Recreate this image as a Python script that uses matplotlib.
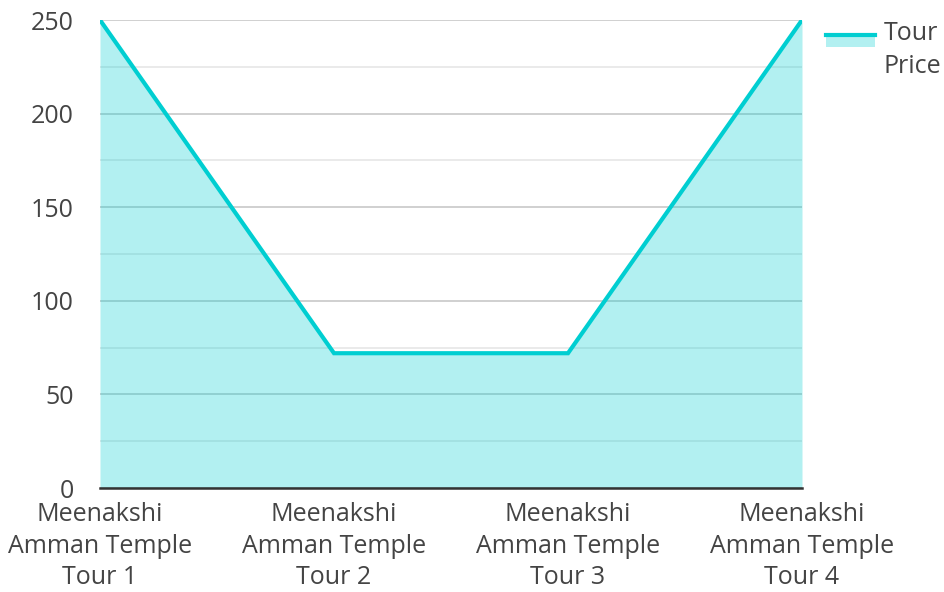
import matplotlib
matplotlib.use("Agg")
import matplotlib.pyplot as plt
from matplotlib.legend_handler import HandlerBase
from matplotlib.patches import Rectangle
from matplotlib.lines import Line2D

categories = ["Meenakshi\nAmman Temple\nTour 1", "Meenakshi\nAmman Temple\nTour 2",
              "Meenakshi\nAmman Temple\nTour 3", "Meenakshi\nAmman Temple\nTour 4"]
prices = [250, 72, 72, 250]
series_name = "Tour\nPrice"
yticks = [0, 50, 100, 150, 200, 250]

LINE = "#00CED1"
FILL = (0/255, 206/255, 209/255, 0.3)
FS = 18

plt.rcParams['font.family'] = ['Open Sans', 'DejaVu Sans']

fig = plt.figure(figsize=(9.44, 5.92), dpi=100)
ax = fig.add_axes([100/944, 1-488/592, 702/944, 468/592])

x = list(range(len(categories)))
ax.fill_between(x, prices, 0, color=FILL, linewidth=0, zorder=2)
ax.plot(x, prices, color=LINE, lw=3, zorder=3, solid_joinstyle='miter')

ax.set_xlim(0, len(categories)-1)
ax.set_ylim(0, 250)
ax.set_yticks(yticks)
ax.set_yticks([25, 75, 125, 175, 225], minor=True)
ax.set_axisbelow(True)
ax.grid(True, axis='y', which='major', color='#c8c8c8', lw=1.2)
ax.grid(True, axis='y', which='minor', color='#e6e6e6', lw=1.2)
ax.set_xticks(x)
ax.set_xticklabels(categories, linespacing=1.35)
ax.tick_params(axis='both', which='both', length=0, labelsize=FS, colors='#444444')
ax.tick_params(axis='y', pad=19)
ax.tick_params(axis='x', pad=10)
for s in ['top', 'right', 'left']:
    ax.spines[s].set_visible(False)
ax.spines['bottom'].set_color('#333333')
ax.spines['bottom'].set_linewidth(1.8)
ax.spines['bottom'].set_zorder(4)


class AreaHandler(HandlerBase):
    def create_artists(self, legend, orig, xd, yd, w, h, fs, trans):
        c = -yd + h / 2
        r = Rectangle((-xd, c + 0.16 * fs), w, 0.48 * fs, facecolor=FILL,
                      edgecolor='none', transform=trans)
        l = Line2D([-xd, -xd + w], [c + 0.64 * fs] * 2, color=LINE, lw=3,
                   transform=trans)
        return [r, l]


handle = Line2D([], [], color=LINE)
leg = fig.legend([handle], [series_name], handler_map={Line2D: AreaHandler()},
                 loc='upper left', bbox_to_anchor=(826/944, 1-21/592), frameon=False,
                 borderpad=0, borderaxespad=0,
                 fontsize=FS, handlelength=1.96, handletextpad=0.35, labelcolor='#444444')
for t in leg.get_texts():
    t.set_linespacing(1.40)

fig.savefig("out.png", dpi=100)
